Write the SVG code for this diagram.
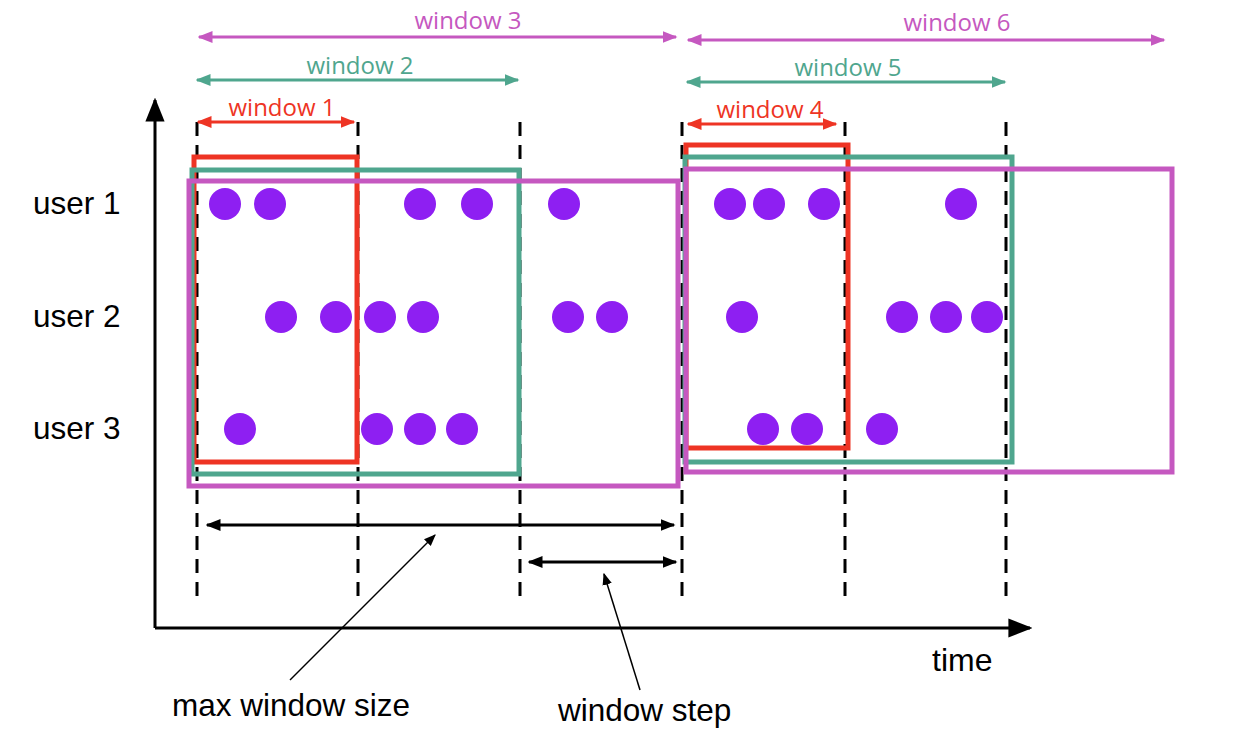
<svg xmlns="http://www.w3.org/2000/svg" width="1246" height="742" viewBox="0 0 1246 742">
<style>
text{font-family:"Liberation Sans",Arial,sans-serif}
.lbl{font-size:31.5px;fill:#000}
.wl{font-size:24px;font-family:"Open Sans","Liberation Sans",sans-serif;text-anchor:middle}
.d{fill:#8e1ff2}
.dash{stroke:#000;stroke-width:3;stroke-dasharray:14,9;fill:none}
.r{stroke:#ee3424;fill:none;stroke-width:5}
.g{stroke:#4fa68e;fill:none;stroke-width:5}
.m{stroke:#c558c0;fill:none;stroke-width:5}
</style>
<defs>
<marker id="ar" viewBox="0 0 10 10" refX="9" refY="5" markerWidth="5" markerHeight="5" orient="auto-start-reverse"><path d="M0,1 L10,5 L0,9 z" fill="#ee3424"/></marker>
<marker id="ag" viewBox="0 0 10 10" refX="9" refY="5" markerWidth="5" markerHeight="5" orient="auto-start-reverse"><path d="M0,1 L10,5 L0,9 z" fill="#4fa68e"/></marker>
<marker id="am" viewBox="0 0 10 10" refX="9" refY="5" markerWidth="5" markerHeight="5" orient="auto-start-reverse"><path d="M0,1 L10,5 L0,9 z" fill="#c558c0"/></marker>
<marker id="ak" viewBox="0 0 10 10" refX="9" refY="5" markerWidth="5" markerHeight="5" orient="auto-start-reverse"><path d="M0,1 L10,5 L0,9 z" fill="#000"/></marker>
<marker id="ak2" viewBox="0 0 10 10" refX="9" refY="5" markerWidth="8" markerHeight="8" orient="auto"><path d="M0,1 L10,5 L0,9 z" fill="#000"/></marker>
</defs>
<rect width="1246" height="742" fill="#fff"/>
<g id="grid">
<line class="dash" x1="197" y1="122" x2="197" y2="598"/>
<line class="dash" x1="358" y1="122" x2="358" y2="598"/>
<line class="dash" x1="520" y1="122" x2="520" y2="598"/>
<line class="dash" x1="682" y1="122" x2="682" y2="598"/>
<line class="dash" x1="845" y1="122" x2="845" y2="598"/>
<line class="dash" x1="1006" y1="122" x2="1006" y2="598"/>
</g>
<g id="axes">
<line x1="155" y1="628" x2="155" y2="100" stroke="#000" stroke-width="3" marker-end="url(#ak2)"/>
<line x1="155" y1="628" x2="1030" y2="628" stroke="#000" stroke-width="3" marker-end="url(#ak2)"/>
<text class="lbl" x="932" y="671" style="font-size:32px">time</text>
</g>
<g id="window1"><rect class="r" x="194" y="157" width="163" height="305"/><line x1="198" y1="122" x2="354" y2="122" stroke="#ee3424" stroke-width="3" marker-start="url(#ar)" marker-end="url(#ar)"/><text class="wl" x="282" y="116" fill="#ee3424">window 1</text></g>
<g id="window2"><rect class="g" x="192" y="170" width="327" height="304"/><line x1="197" y1="80" x2="518" y2="80" stroke="#4fa68e" stroke-width="3" marker-start="url(#ag)" marker-end="url(#ag)"/><text class="wl" x="360" y="74" fill="#4fa68e">window 2</text></g>
<g id="window3"><rect class="m" x="189" y="181" width="489" height="305"/><line x1="199" y1="37" x2="676" y2="37" stroke="#c558c0" stroke-width="3" marker-start="url(#am)" marker-end="url(#am)"/><text class="wl" x="468" y="29" fill="#c558c0">window 3</text></g>
<g id="window4"><rect class="r" x="686" y="145" width="162" height="303"/><line x1="688" y1="124" x2="836" y2="124" stroke="#ee3424" stroke-width="3" marker-start="url(#ar)" marker-end="url(#ar)"/><text class="wl" x="770" y="118" fill="#ee3424">window 4</text></g>
<g id="window5"><rect class="g" x="685" y="157" width="327" height="305"/><line x1="687" y1="82" x2="1005" y2="82" stroke="#4fa68e" stroke-width="3" marker-start="url(#ag)" marker-end="url(#ag)"/><text class="wl" x="848" y="76" fill="#4fa68e">window 5</text></g>
<g id="window6"><rect class="m" x="686" y="169" width="486" height="303"/><line x1="688" y1="40" x2="1164" y2="40" stroke="#c558c0" stroke-width="3" marker-start="url(#am)" marker-end="url(#am)"/><text class="wl" x="957" y="31" fill="#c558c0">window 6</text></g>
<g id="users">
<text class="lbl" x="33" y="214">user 1</text>
<text class="lbl" x="33" y="327">user 2</text>
<text class="lbl" x="33" y="439">user 3</text>
</g>
<g id="dots">
<circle class="d" cx="225" cy="204" r="16"/><circle class="d" cx="270" cy="204" r="16"/><circle class="d" cx="420" cy="204" r="16"/><circle class="d" cx="477" cy="204" r="16"/><circle class="d" cx="564" cy="204" r="16"/><circle class="d" cx="730" cy="204" r="16"/><circle class="d" cx="769" cy="204" r="16"/><circle class="d" cx="824" cy="204" r="16"/><circle class="d" cx="961" cy="204" r="16"/>
<circle class="d" cx="281" cy="317" r="16"/><circle class="d" cx="336" cy="317" r="16"/><circle class="d" cx="380" cy="317" r="16"/><circle class="d" cx="423" cy="317" r="16"/><circle class="d" cx="568" cy="317" r="16"/><circle class="d" cx="612" cy="317" r="16"/><circle class="d" cx="742" cy="317" r="16"/><circle class="d" cx="902" cy="317" r="16"/><circle class="d" cx="946" cy="317" r="16"/><circle class="d" cx="987" cy="317" r="16"/>
<circle class="d" cx="240" cy="429" r="16"/><circle class="d" cx="377" cy="429" r="16"/><circle class="d" cx="420" cy="429" r="16"/><circle class="d" cx="462" cy="429" r="16"/><circle class="d" cx="763" cy="429" r="16"/><circle class="d" cx="807" cy="429" r="16"/><circle class="d" cx="882" cy="429" r="16"/>
</g>
<g id="connectors" stroke="#000" stroke-width="3" fill="none">
<line x1="207" y1="525" x2="674" y2="525" marker-start="url(#ak)" marker-end="url(#ak)"/>
<line x1="529" y1="562" x2="676" y2="562" marker-start="url(#ak)" marker-end="url(#ak)"/>
<line x1="290" y1="680" x2="435" y2="535" stroke-width="1.5" marker-end="url(#ak2)"/>
<line x1="640" y1="690" x2="604" y2="574" stroke-width="1.5" marker-end="url(#ak2)"/>
</g>
<text class="lbl" x="172" y="716">max window size</text>
<text class="lbl" x="558" y="721">window step</text>
</svg>
